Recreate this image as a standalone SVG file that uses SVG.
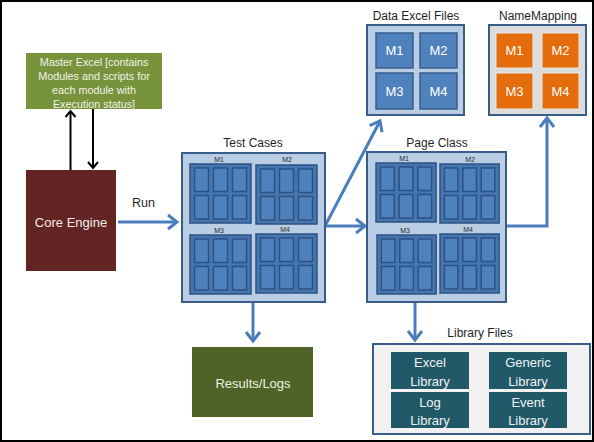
<svg xmlns="http://www.w3.org/2000/svg" xmlns:xlink="http://www.w3.org/1999/xlink" width="594" height="442" viewBox="0 0 594 442">
<style>
text{font-family:"Liberation Sans",Arial,sans-serif;}
.title{font-size:12px;fill:#1f1f1f;text-anchor:middle;}
.light{fill:#b9cde5;stroke:#385d8a;stroke-width:2;}
.mod{fill:#4676b0;stroke:#2c5282;stroke-width:1.5;}
.cell{fill:#4f81bd;stroke:#2c5282;stroke-width:1.5;}
.mlab{font-size:7px;fill:#2a2a2a;text-anchor:middle;}
.big{fill:#4f81bd;stroke:#385d8a;stroke-width:1.5;}
.org{fill:#e46c0a;stroke:#e8e8e8;stroke-width:1;}
.wt{font-size:13px;fill:#ffffff;text-anchor:middle;}
.lib{fill:#215968;}
.lt{font-size:13px;fill:#f2f2f2;text-anchor:middle;}
.blue{fill:none;stroke:#4a7ebb;stroke-width:3;}
.blk{fill:none;stroke:#000;stroke-width:2;}
</style>
<defs>
<marker id="ab" markerUnits="userSpaceOnUse" markerWidth="20" markerHeight="20" viewBox="-10 -10 20 20" refX="0" refY="0" orient="auto">
<path d="M-9,-7 L0,0 L-9,7" fill="none" stroke="#4a7ebb" stroke-width="3"/>
</marker>
<marker id="ak" markerUnits="userSpaceOnUse" markerWidth="16" markerHeight="16" viewBox="-8 -8 16 16" refX="0" refY="0" orient="auto">
<path d="M-6,-5 L0,0 L-6,5" fill="none" stroke="#000" stroke-width="2"/>
</marker>
<g id="module">
<rect class="mod" x="0" y="0" width="61" height="59"/>
<rect class="cell" x="4.5" y="4" width="14" height="23.5"/>
<rect class="cell" x="23.5" y="4" width="14" height="23.5"/>
<rect class="cell" x="42.5" y="4" width="14" height="23.5"/>
<rect class="cell" x="4.5" y="31.5" width="14" height="23.5"/>
<rect class="cell" x="23.5" y="31.5" width="14" height="23.5"/>
<rect class="cell" x="42.5" y="31.5" width="14" height="23.5"/>
</g>
</defs>
<rect x="0" y="0" width="594" height="442" fill="#ffffff"/>
<rect x="1" y="1" width="592" height="440" fill="none" stroke="#000" stroke-width="2"/>

<g id="connectors">
<line class="blk" x1="70.5" y1="170" x2="70.5" y2="111" marker-end="url(#ak)"/>
<line class="blk" x1="93" y1="109" x2="93" y2="168" marker-end="url(#ak)"/>
<line class="blue" x1="118" y1="222" x2="177" y2="222" marker-end="url(#ab)"/>
<text x="143.5" y="207" style="font-size:12.5px;fill:#1f1f1f;text-anchor:middle">Run</text>
<line class="blue" x1="325" y1="226" x2="380" y2="121" marker-end="url(#ab)"/>
<line class="blue" x1="325" y1="226" x2="365" y2="226" marker-end="url(#ab)"/>
<polyline class="blue" points="506,226 547,226 547,118" marker-end="url(#ab)"/>
<line class="blue" x1="253" y1="302" x2="253" y2="341" marker-end="url(#ab)"/>
<line class="blue" x1="415" y1="302" x2="415" y2="340" marker-end="url(#ab)"/>
</g>

<g id="master-excel">
<rect x="26" y="53" width="136" height="56" fill="#77933c"/>
<text x="94" y="65.5" style="font-size:10.8px;fill:#f2f2e6;text-anchor:middle">Master Excel [contains</text>
<text x="94" y="79.5" style="font-size:10.8px;fill:#f2f2e6;text-anchor:middle">Modules and scripts for</text>
<text x="94" y="93.5" style="font-size:10.8px;fill:#f2f2e6;text-anchor:middle">each module with</text>
<text x="94" y="107.5" style="font-size:10.8px;fill:#f2f2e6;text-anchor:middle">Execution status]</text>
</g>

<g id="core-engine">
<rect x="26" y="170" width="90" height="101" fill="#632523"/>
<text x="71" y="226.5" style="font-size:13px;fill:#f5ecec;text-anchor:middle">Core Engine</text>
</g>

<g id="test-cases">
<text class="title" x="253" y="147">Test Cases</text>
<rect class="light" x="182" y="153" width="143" height="149"/>
<use xlink:href="#module" x="190" y="164"/>
<use xlink:href="#module" x="256" y="165"/>
<use xlink:href="#module" x="190" y="235"/>
<use xlink:href="#module" x="256" y="234"/>
<text class="mlab" x="219" y="161.5">M1</text>
<text class="mlab" x="287" y="162">M2</text>
<text class="mlab" x="219" y="233">M3</text>
<text class="mlab" x="285" y="232">M4</text>
</g>

<g id="page-class">
<text class="title" x="437" y="147">Page Class</text>
<rect class="light" x="367" y="152" width="139" height="150"/>
<use xlink:href="#module" x="376" y="163" transform="translate(376 163) scale(0.985 1) translate(-376 -163)"/>
<use xlink:href="#module" x="440" y="164" transform="translate(440 164) scale(0.97 1) translate(-440 -164)"/>
<use xlink:href="#module" x="377" y="235" transform="translate(377 235) scale(0.97 1) translate(-377 -235)"/>
<use xlink:href="#module" x="440" y="234" transform="translate(440 234) scale(0.97 1) translate(-440 -234)"/>
<text class="mlab" x="404" y="160.5">M1</text>
<text class="mlab" x="470" y="161.5">M2</text>
<text class="mlab" x="405" y="232.5">M3</text>
<text class="mlab" x="468" y="231.5">M4</text>
</g>

<g id="data-excel-files">
<text class="title" x="416" y="20">Data Excel Files</text>
<rect class="light" x="367" y="25" width="97" height="90"/>
<rect class="big" x="376" y="33" width="37" height="35"/>
<rect class="big" x="420" y="33" width="37" height="35"/>
<rect class="big" x="376" y="73" width="37" height="36"/>
<rect class="big" x="420" y="73" width="37" height="36"/>
<text class="wt" x="394.5" y="55">M1</text>
<text class="wt" x="438.5" y="55">M2</text>
<text class="wt" x="394.5" y="95.5">M3</text>
<text class="wt" x="438.5" y="95.5">M4</text>
</g>

<g id="name-mapping">
<text class="title" x="538" y="20">NameMapping</text>
<rect x="489" y="25" width="97" height="90" fill="#dcdcdc" stroke="#385d8a" stroke-width="2"/>
<rect class="org" x="496" y="33" width="37" height="35"/>
<rect class="org" x="542" y="33" width="37" height="35"/>
<rect class="org" x="496" y="73" width="37" height="36"/>
<rect class="org" x="542" y="73" width="37" height="36"/>
<text class="wt" x="514.5" y="55">M1</text>
<text class="wt" x="560.5" y="55">M2</text>
<text class="wt" x="514.5" y="95.5">M3</text>
<text class="wt" x="560.5" y="95.5">M4</text>
</g>

<g id="results-logs">
<rect x="192" y="347" width="121" height="70" fill="#4f6228"/>
<text x="253" y="387.5" style="font-size:13px;fill:#eef3e0;text-anchor:middle">Results/Logs</text>
</g>

<g id="library-files">
<text class="title" x="480" y="337">Library Files</text>
<rect x="373" y="344" width="217" height="90" fill="#f2f2f2" stroke="#385d8a" stroke-width="2"/>
<rect class="lib" x="391" y="352" width="78" height="37"/>
<rect class="lib" x="489" y="352" width="78" height="37"/>
<rect class="lib" x="391" y="392" width="78" height="36"/>
<rect class="lib" x="489" y="392" width="78" height="36"/>
<text class="lt" x="430" y="367">Excel</text>
<text class="lt" x="430" y="385.5">Library</text>
<text class="lt" x="528" y="367">Generic</text>
<text class="lt" x="528" y="385.5">Library</text>
<text class="lt" x="430" y="406.5">Log</text>
<text class="lt" x="430" y="425">Library</text>
<text class="lt" x="528" y="406.5">Event</text>
<text class="lt" x="528" y="425">Library</text>
</g>
</svg>
